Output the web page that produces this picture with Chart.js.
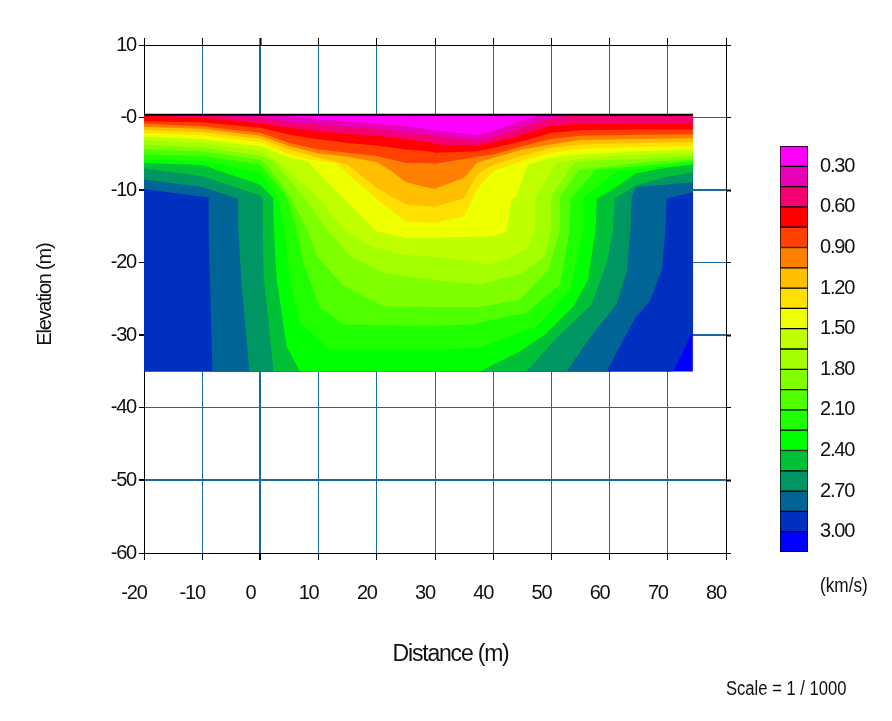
<!DOCTYPE html>
<html>
<head>
<meta charset="utf-8">
<style>
html,body{margin:0;padding:0;background:#fff;overflow:hidden}
#wrap{position:relative;width:892px;height:721px;background:#fff}
#main{position:absolute;left:0;top:0}
#bar{position:absolute;left:760px;top:130px}
.note{position:absolute;font-family:"Liberation Sans",sans-serif;color:#111;white-space:nowrap;line-height:1;transform-origin:left top}
</style>
<script src="https://cdn.jsdelivr.net/npm/chart.js@4"></script>
</head>
<body>
<div id="wrap">
<canvas id="main" width="892" height="721"></canvas>
<canvas id="bar" width="132" height="440"></canvas>
<div class="note" style="left:820px;top:574px;font-size:21px;transform:scaleX(.82)">(km/s)</div>
<div class="note" style="left:726px;top:678px;font-size:20px;transform:scaleX(.83)">Scale = 1 / 1000</div>
</div>
<script>
const xTicks = [-20,-10,0,10,20,30,40,50,60,70,80];
const yTicks = [10,0,-10,-20,-30,-40,-50,-60];
const surfaceX = [-20,74.3];
const surfaceTop = 0.4;
const profileBottom = -35;

// velocity bands, slowest first (km/s steps of 0.15)
const bandColors = ['#ff00ff','#e800b8','#f50070','#ff0000','#ff4000','#ff8000','#ffbf00','#ffe000','#eeff00','#c0ff00','#a4ff00','#80ff00','#50ff00','#20ff00','#00ff00','#00c038','#009664','#006496','#0030c0','#0000ff'];
const legendEdges = [0.15,0.30,0.45,0.60,0.75,0.90,1.05,1.20,1.35,1.50,1.65,1.80,1.95,2.10,2.25,2.40,2.55,2.70,2.85,3.00,3.15];
const legendTicks = [0.30,0.60,0.90,1.20,1.50,1.80,2.10,2.40,2.70,3.00];

// iso-velocity lines [distance, elevation]
const v030 = [[2,0.4],[10,-0.2],[15,-0.5],[20,-0.8],[25,-1.2],[29,-1.65],[30,-1.75],[37.2,-2.45],[40,-1.9],[44.6,-0.5],[47.5,0.2],[48.5,0.4]];
const v045 = [[-20,0.4],[-10,0.3],[0,0],[5,-0.65],[10,-0.95],[15,-1.3],[20,-1.55],[25,-2.1],[29,-2.35],[30,-2.6],[37.2,-3.25],[40,-2.65],[44.8,-1.4],[49.5,-0.2],[53,0.2],[55,0.3],[65,0.35],[74.3,0.35]];
const v060 = [[-20,0.2],[-10,0.05],[0,-0.8],[5,-1.4],[10,-1.9],[15,-2.25],[20,-2.55],[25,-3.0],[29,-3.4],[30,-3.7],[37.2,-3.8],[40,-3.4],[45,-2.35],[50,-1.1],[55,-0.85],[65,-0.85],[74.3,-0.8]];
const v075 = [[-20,-0.5],[-10,-0.65],[0,-1.4],[5,-2.35],[10,-3.0],[15,-3.5],[20,-3.85],[25,-4.4],[29,-4.65],[30,-4.85],[37.2,-4.65],[40,-4.2],[45,-3.25],[50,-2.1],[55,-1.75],[65,-1.65],[74.3,-1.65]];
const v090 = [[-20,-0.85],[-10,-1.2],[0,-2.1],[5,-3.5],[10,-4.4],[15,-4.85],[20,-5.3],[25,-6.25],[29,-6.25],[30,-6.35],[37.2,-5.4],[40,-5.1],[45,-3.95],[50,-2.95],[55,-2.5],[65,-2.35],[74.3,-2.3]];
const v105 = [[-20,-1.3],[-10,-1.55],[0,-2.5],[5,-3.95],[10,-4.95],[15,-5.4],[20,-6.15],[22.5,-7.4],[25,-8.9],[29,-9.7],[30,-9.8],[35,-8.3],[37.2,-6.25],[40,-5.55],[45,-4.4],[50,-3.7],[55,-3.1],[65,-2.95],[74.3,-2.85]];
const v120 = [[-20,-1.7],[-10,-2.0],[0,-2.95],[5,-4.4],[10,-5.55],[15,-6.5],[20,-9.7],[25,-12],[30,-12.3],[35,-11.1],[37.2,-7.85],[40,-6.5],[45,-5.25],[50,-4.2],[55,-3.7],[65,-3.5],[74.3,-3.4]];
const v135 = [[-20,-2.1],[-10,-2.45],[0,-3.4],[5,-5.1],[10,-6.0],[13,-6.25],[20,-11.3],[25,-14.3],[30,-14.5],[35,-13.6],[37.2,-9.9],[40,-7.4],[45,-6.0],[50,-4.85],[55,-4.3],[65,-4.05],[74.3,-3.95]];
const v150 = [[-20,-2.65],[-10,-3.0],[0,-3.95],[5,-5.55],[8,-6.0],[15,-11.75],[20,-15.65],[25,-16.6],[30,-16.6],[37,-16.4],[40,-16.4],[42.3,-15.65],[43.2,-11.3],[44,-10.85],[46,-6.45],[50,-5.55],[55,-5.1],[65,-4.65],[74.3,-4.4]];
const v165 = [[-20,-3.1],[-10,-3.5],[0,-4.65],[3.4,-6.25],[10.2,-11.3],[14.3,-15.4],[18.8,-17.7],[24.6,-18.9],[30,-19.2],[34.9,-19.6],[39.2,-20.25],[42.9,-19.3],[46,-17.95],[47.2,-15.4],[47.2,-11.05],[50.9,-6.25],[54.9,-5.7],[64.5,-5.1],[74.3,-4.9]];
const v180 = [[-20,-3.75],[-10,-4.1],[0,-5.25],[2.2,-6.0],[7.4,-10.85],[11.4,-15.4],[15.4,-19.1],[21.1,-21.4],[29.1,-22.3],[37.7,-23],[44.6,-21.6],[48.9,-19.1],[50,-15.4],[50,-10.85],[53.8,-6.25],[57.2,-5.9],[65,-5.7],[74.3,-5.3]];
const v195 = [[-20,-4.4],[-10,-4.65],[0,-5.8],[1.1,-6.5],[5.1,-10.85],[8,-15.4],[9.7,-19.1],[14.3,-23.2],[21.1,-26],[29.1,-26.1],[37.7,-26.1],[44.6,-25.1],[49.5,-20.95],[51.5,-15.4],[51.5,-10.85],[54.9,-7.15],[65,-6.25],[74.3,-5.7]];
const v210 = [[-20,-5.1],[-10,-5.3],[0,-6.5],[4.5,-10.85],[6.2,-15.4],[7.4,-20],[10.2,-26.2],[14.3,-28.5],[29.1,-28.75],[36,-28.5],[45.7,-26.9],[51.5,-23],[53.2,-15.4],[53.2,-11.3],[57.8,-7.15],[65,-6.7],[74.3,-6.0]];
const v225 = [[-20,-5.8],[-10,-6],[0,-7.6],[2.8,-10.85],[4.2,-15.4],[5,-22.3],[6.8,-28.3],[12,-32],[29.1,-32],[37.7,-31.75],[47.5,-28.75],[53.2,-23.7],[55.5,-15.4],[55.5,-11.05],[61.2,-7.4],[65,-7.15],[74.3,-6.25]];
const v240 = [[-20,-6.25],[-10,-6.55],[0,-9.25],[2.2,-11.05],[2.3,-15.4],[2.8,-22.3],[4.5,-31.5],[6.8,-35],[37.7,-35],[44.6,-32.2],[48.9,-29.9],[53.8,-26],[56.3,-22.3],[57.6,-15.4],[57.8,-11.2],[60.9,-9.7],[64.5,-7.7],[69.5,-6.95],[74.3,-6.5]];
const v255 = [[-20,-7.0],[-10,-8.1],[0,-10.75],[0.4,-11.3],[0.4,-15.4],[0.6,-22.3],[2.3,-35],[45.7,-35],[51.2,-30.1],[56.9,-25.75],[59.5,-20],[60.6,-15.4],[60.9,-11.15],[64.5,-9.35],[69.5,-8.2],[74.3,-7.55]];
const v270 = [[-20,-8.55],[-10,-9.55],[-3.8,-11.2],[-3.8,-15.4],[-3.2,-23.25],[-1.9,-35],[52.6,-35],[57.2,-29.7],[61.2,-25.75],[62.9,-21.4],[63.6,-15.4],[63.8,-10.85],[64.5,-9.55],[69.5,-9.25],[74.3,-8.9]];
const v285 = [[-20,-9.85],[-8.9,-11],[-8.9,-15.4],[-8.25,-35],[59.5,-35],[64.4,-27.6],[66.9,-25.3],[69,-20.95],[69.6,-15.4],[69.8,-11.2],[74.3,-10.3]];
const v300 = [[-20,-35],[70.9,-35],[74.3,-29.5]];
const isoLines = [v030,v045,v060,v075,v090,v105,v120,v135,v150,v165,v180,v195,v210,v225,v240,v255,v270,v285,v300];

const BLACK = '#000', GRID = '#1a68a4';
const regionFor = line => {
  const first = line[0], last = line[line.length-1];
  const pts = line.map(p => ({x:p[0], y:p[1]}));
  pts.push({x:last[0], y:surfaceTop});
  pts.push({x:first[0], y:surfaceTop});
  return pts;
};
const shape = (data,color,label) => ({type:'scatter',label,data,showLine:true,fill:'shape',tension:0,borderWidth:0,pointRadius:0,pointHoverRadius:0,backgroundColor:color,borderColor:color,xAxisID:'x',yAxisID:'y'});

const datasets = [];
datasets.push({type:'scatter',label:'surface',data:surfaceX.map(x=>({x,y:surfaceTop})),showLine:true,fill:false,borderColor:BLACK,borderWidth:2,pointRadius:0,xAxisID:'x',yAxisID:'y'});
isoLines.forEach((line,i)=>{ datasets.push(shape(regionFor(line),bandColors[i],legendEdges[i+1].toFixed(2))); });
datasets.push(shape([{x:surfaceX[0],y:surfaceTop},{x:surfaceX[1],y:surfaceTop},{x:surfaceX[1],y:profileBottom},{x:surfaceX[0],y:profileBottom}],bandColors[19],'3.15'));

const SANS = '"Liberation Sans",sans-serif';
const condensed = {id:'condensed',beforeDraw(chart){chart.ctx.letterSpacing='-1.2px';}};
const yIsFrame = v => v===10||v===-60;
const xIsFrame = v => v===-20||v===80;
const yWide = v => v===-10||v===-30||v===-50;
const xWide = v => v===0;

new Chart(document.getElementById('main'),{
  type:'scatter',
  data:{datasets},
  plugins:[condensed],
  options:{
    responsive:false,animation:false,devicePixelRatio:1,
    layout:{padding:0},
    plugins:{legend:{display:false},tooltip:{enabled:false}},
    scales:{
      x:{type:'linear',position:'bottom',min:-20,max:80,
        afterBuildTicks:s=>{s.ticks=xTicks.map(value=>({value}));},
        afterFit:s=>{s.height=168;},
        border:{color:BLACK,width:1},
        grid:{color:c=>xIsFrame(c.tick.value)?BLACK:GRID,lineWidth:c=>xWide(c.tick.value)?2:1,tickColor:BLACK,tickLength:7,tickWidth:c=>xWide(c.tick.value)?2:1},
        ticks:{color:'#111',font:{family:SANS,size:20},padding:21,labelOffset:-10,maxRotation:0,autoSkip:false},
        title:{display:true,text:'      Distance (m)',color:'#111',font:{family:SANS,size:23},padding:{top:0,bottom:53}}
      },
      y:{type:'linear',position:'left',min:-60,max:10,
        afterBuildTicks:s=>{s.ticks=yTicks.map(value=>({value}));},
        afterFit:s=>{s.width=144;},
        border:{color:BLACK,width:1},
        grid:{color:c=>yIsFrame(c.tick.value)?BLACK:GRID,lineWidth:c=>yWide(c.tick.value)?2:1,tickColor:BLACK,tickLength:5},
        ticks:{color:'#111',font:{family:SANS,size:20},padding:3,autoSkip:false,callback:v=>v===0?'-0':String(v)},
        title:{display:true,text:'  Elevation (m)',color:'#111',font:{family:SANS,size:20},padding:{top:33,bottom:0}}
      },
      x2:{type:'linear',position:'top',min:-20,max:80,
        afterBuildTicks:s=>{s.ticks=xTicks.map(value=>({value}));},
        afterFit:s=>{s.height=45;},
        border:{color:BLACK,width:1},
        grid:{drawOnChartArea:false,tickColor:BLACK,tickLength:7,tickWidth:c=>xWide(c.tick.value)?2:1},
        ticks:{display:false}
      },
      y2:{type:'linear',position:'right',min:-60,max:10,
        afterBuildTicks:s=>{s.ticks=yTicks.map(value=>({value}));},
        afterFit:s=>{s.width=166;},
        border:{color:BLACK,width:1},
        grid:{drawOnChartArea:false,tickColor:BLACK,tickLength:5,tickWidth:c=>yWide(c.tick.value)?2:1},
        ticks:{display:false}
      }
    }
  }
});

new Chart(document.getElementById('bar'),{
  type:'bar',
  plugins:[condensed],
  data:{
    labels:['v'],
    datasets:bandColors.map((c,i)=>({label:legendEdges[i].toFixed(2),data:[[legendEdges[i],legendEdges[i+1]]],backgroundColor:c,borderColor:BLACK,borderWidth:1,borderSkipped:false,grouped:false,barPercentage:1,categoryPercentage:1}))
  },
  options:{
    responsive:false,animation:false,devicePixelRatio:1,
    layout:{padding:{left:20,top:16,bottom:18,right:0}},
    plugins:{legend:{display:false},tooltip:{enabled:false}},
    scales:{
      x:{display:false},
      y:{position:'right',reverse:true,min:0.15,max:3.15,
        afterBuildTicks:s=>{s.ticks=legendTicks.map(value=>({value}));},
        afterFit:s=>{s.width=84;s.paddingTop=0;s.paddingBottom=0;},
        border:{display:false},
        grid:{display:false,drawTicks:false},
        ticks:{color:'#111',font:{family:SANS,size:20},padding:12,autoSkip:false,callback:v=>Number(v).toFixed(2)}
      }
    }
  }
});
</script>
</body>
</html>
